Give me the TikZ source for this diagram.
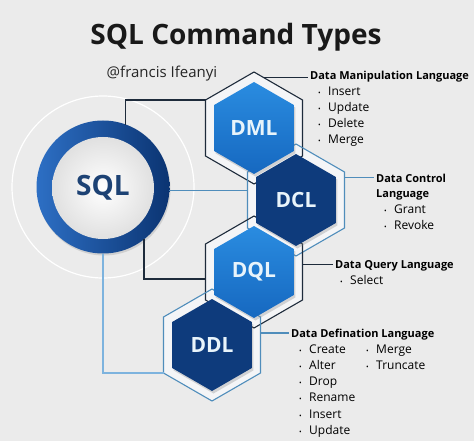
\documentclass[tikz,border=0pt]{standalone}
\usepackage{fontspec}
\setmainfont{Open Sans}
\usetikzlibrary{shapes.geometric,shadows}

\definecolor{bgcol}{HTML}{EBEBEB}
\definecolor{framefill}{HTML}{F4F5F7}
\definecolor{darkline}{HTML}{1E2B3B}
\definecolor{steelline}{HTML}{4F8DBB}
\definecolor{lightline}{HTML}{7DB3DE}
\definecolor{bluetop}{HTML}{2A8CE0}
\definecolor{bluebot}{HTML}{1668C0}
\definecolor{navyhex}{HTML}{0E3B7C}
\definecolor{hextext}{HTML}{E8F4FB}
\definecolor{sqlnavy}{HTML}{1D4274}
\definecolor{ringlight}{HTML}{2D6FC4}
\definecolor{ringdark}{HTML}{0B3472}

% bullet with its text
\newcommand{\itm}[1]{\makebox[10pt][l]{\scriptsize\textbullet}#1}

\begin{document}
\begin{tikzpicture}[x=1pt,y=-1pt,
    hexframe/.style={regular polygon, regular polygon sides=6, shape border rotate=30,
        minimum size=112pt, inner sep=0pt, outer sep=0pt, line width=1.1pt},
    hexfill/.style={regular polygon, regular polygon sides=6, shape border rotate=30,
        minimum size=92pt, inner sep=0pt, outer sep=0pt, text=hextext,
        font=\bfseries\fontsize{21}{24}\selectfont,
        drop shadow={opacity=0.3, shadow xshift=1.5pt, shadow yshift=-2.5pt}},
    lighthex/.style={top color=bluetop, bottom color=bluebot},
    darkhex/.style={fill=navyhex},
    heading/.style={anchor=base west, inner xsep=2pt, inner ysep=0pt, align=left,
        font=\bfseries\fontsize{11}{15}\selectfont},
    entry/.style={anchor=base west, inner sep=0pt, font=\fontsize{12}{14}\selectfont},
    link/.style={line width=1.3pt}
]
    \useasboundingbox[fill=bgcol] (0,0) rectangle (474,441);

    % Title and author
    \node[font=\bfseries\fontsize{28}{30}\selectfont, text=black!90] (title) at (236,37) {SQL Command Types};
    \node[font=\fontsize{15}{18}\selectfont, text=black!85] (author) at (162,74) {@francis Ifeanyi};

    % SQL circle
    \node[circle, minimum size=182pt, draw=white, line width=1.2pt] (sqlhalo) at (103,187) {};
    \node[circle, minimum size=133pt, inner sep=0pt, outer sep=0pt, left color=ringlight, right color=ringdark,
        drop shadow={opacity=0.25, shadow xshift=1pt, shadow yshift=-2pt}] (sqlring) at (103,187) {};
    \node[circle, minimum size=102pt, inner sep=0pt, inner color=white, outer color=black!12,
        text=sqlnavy, font=\bfseries\fontsize{28}{30}\selectfont] (sqlcore) at (103,188) {SQL};

    % Hexagon frames
    \foreach \nm/\px/\py in {dml/254/128, dcl/296/200, dql/254/272, ddl/212/345}
        \node[hexframe, fill=framefill] (\nm o) at (\px,\py) {};
    \foreach \nm/\rim in {dml/darkline, dcl/steelline, dql/darkline, ddl/steelline}
        \node[hexframe, draw=\rim] (\nm rim) at (\nm o) {};

    % Links from SQL to the frames
    \coordinate (dqlin) at ([yshift=-7pt]dqlo.west);
    \draw[link, darkline] (sqlring.70) |- (dmlo.150);
    \draw[link, steelline] (sqlring.-3) -- (sqlring.-3 -| dclo.west);
    \draw[link, darkline] (sqlring.-52) |- (dqlin);
    \draw[link, lightline] (sqlring.south) |- (ddlo.210);

    % Filled hexagons
    \foreach \nm/\sty/\txt in {dml/lighthex/DML, dcl/darkhex/DCL, dql/lighthex/DQL, ddl/darkhex/DDL}
        \node[hexfill, \sty] (\nm) at (\nm o) {\txt};

    % Headings
    \node[heading] (dmlhead) at (308,80) {Data Manipulation Language};
    \node[heading] (dclhead) at (374,197) {Data Control\\Language};
    \node[heading] (dqlhead) at (333,268) {Data Query Language};
    \node[heading] (ddlhead) at (289,337) {Data Defination Language};

    \draw[link, darkline] (dmlo.80) -- (dmlo.80 -| dmlhead.west);
    \draw[link, steelline] (dclo.25) -- (dclo.25 -| dclhead.west);
    \draw[link, darkline] (dqlo.9) -- (dqlo.9 -| dqlhead.west);
    \draw[link, steelline] (ddlo.14) -- (ddlo.14 -| ddlhead.west);

    % Command lists
    \foreach \cmd [count=\i] in {Insert,Update,Delete,Merge}
        \node[entry] (dml\i) at (318,80+16*\i) {\itm{\cmd}};
    \foreach \cmd [count=\i] in {Grant,Revoke}
        \node[entry] (dcl\i) at (384,197+16*\i) {\itm{\cmd}};
    \node[entry] (dql1) at (340,284) {\itm{Select}};
    \foreach \cmd [count=\i] in {Create,Alter,Drop,Rename,Insert,Update}
        \node[entry] (ddl\i) at (299,337+16.2*\i) {\itm{\cmd}};
    \foreach \cmd [count=\i] in {Merge,Truncate}
        \node[entry] (ddlb\i) at (366,337+16.2*\i) {\itm{\cmd}};
\end{tikzpicture}
\end{document}
